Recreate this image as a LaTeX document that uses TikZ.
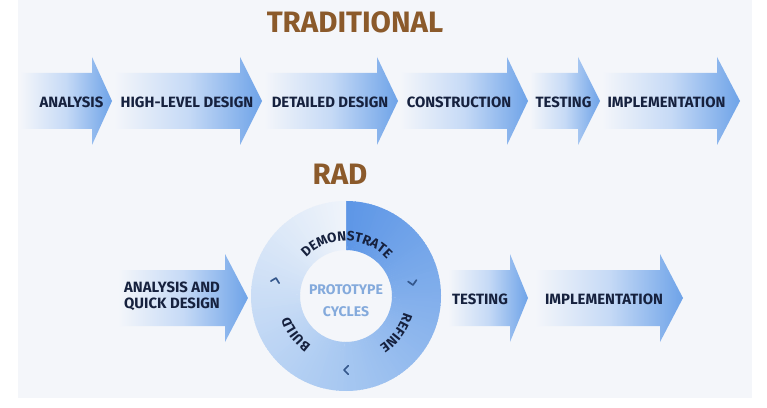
\documentclass[tikz,border=0pt]{standalone}
\usepackage{fontspec}
\setmainfont{Fira Sans}
\usetikzlibrary{decorations.text}
\definecolor{panel}{HTML}{F4F6FA}
\definecolor{navy}{HTML}{16213E}
\definecolor{brown}{HTML}{8B5A2B}
\definecolor{arrowblue}{HTML}{6EA3E8}
\definecolor{arrowmid}{HTML}{C6DAF6}
\definecolor{ringA}{HTML}{5D96E6}
\definecolor{ringB}{HTML}{A6C7F1}
\definecolor{ringC}{HTML}{EEF3FA}
\definecolor{proto}{HTML}{84AADC}
\definecolor{chevc}{HTML}{34578C}
\newcommand\rsarrow[4]{%
  \shade[arrowshade] (#1,#4-28) -- (#2,#4-28) -- (#2,#4-44) -- (#3,#4) -- (#2,#4+44) -- (#2,#4+28) -- (#1,#4+28) -- cycle;}
\newcommand\ringfont{\bfseries\fontsize{13.5}{15}\selectfont\color{navy}}
\tikzset{
  arrowshade/.style={left color=panel, right color=arrowblue, middle color=arrowmid},
  lbl/.style={font=\bfseries\fontsize{14.9}{16}\selectfont, text=navy, inner sep=0pt},
  titlelbl/.style={font=\bfseries\fontsize{29.5}{32}\selectfont, text=brown, inner sep=0pt},
  protolbl/.style={font=\bfseries\fontsize{14}{22}\selectfont, text=proto, inner sep=0pt, align=center},
  chev/.style={draw=chevc, line width=1.7pt, line cap=round, line join=round}
}
\begin{document}
\begin{tikzpicture}[x=1pt,y=1pt]
\useasboundingbox (0,0) rectangle (767,407);
\fill[white] (0,0) rectangle (767,407);
\fill[panel] (18,9) rectangle (752,407);

% titles
\node[titlelbl] (trad) at (355,385) {TRADITIONAL};
\node[titlelbl] (rad) at (340,233) {RAD};

% traditional row
\rsarrow{20}{92}{112}{306}
\rsarrow{114}{240}{262}{306}
\rsarrow{264}{377}{398}{306}
\rsarrow{400}{507}{528}{306}
\rsarrow{530}{578}{600}{306}
\rsarrow{602}{717}{740}{306}
\node[lbl] (t1) at (71.5,305) {ANALYSIS};
\node[lbl] (t2) at (187,305) {HIGH-LEVEL DESIGN};
\node[lbl] (t3) at (330,305) {DETAILED DESIGN};
\node[lbl] (t4) at (459,305) {CONSTRUCTION};
\node[lbl] (t5) at (563.5,305) {TESTING};
\node[lbl] (t6) at (666.5,305) {IMPLEMENTATION};

% RAD row arrows
\rsarrow{118}{225}{248}{109}
\rsarrow{448}{510}{528}{109}
\rsarrow{535}{660}{683}{109}
\node[lbl, align=left, anchor=west] (r1) at (124,111) {ANALYSIS AND\\QUICK DESIGN};
\node[lbl] (r2) at (480,108) {TESTING};
\node[lbl] (r3) at (604,108) {IMPLEMENTATION};

% ring
\coordinate (rc) at (346,111);
\begin{scope}[shift={(rc)}]
\foreach \i in {0,...,179}{
  \pgfmathsetmacro\aS{90-2*\i+(\i>0)*0.5}
  \pgfmathsetmacro\aE{90-2*\i-2}
  \ifnum\i<90
    \pgfmathtruncatemacro\q{100-\i*100/90}
    \colorlet{segc}{ringA!\q!ringB}
  \else
    \pgfmathtruncatemacro\q{100-(\i-90)*100/89}
    \colorlet{segc}{ringB!\q!ringC}
  \fi
  \fill[segc] (\aS:95) arc[start angle=\aS, end angle=\aE, radius=95] -- (\aE:46) arc[start angle=\aE, end angle=\aS, radius=46] -- cycle;
}
\path[decorate, decoration={text along path, text align=center, text={|\ringfont|DEMONSTRATE}}] (170:55) arc[start angle=170, end angle=8, radius=55];
\path[decorate, decoration={text along path, text align=center, text={|\ringfont|REFINE}}] (8:60) arc[start angle=8, end angle=-80, radius=60];
\path[decorate, decoration={text along path, text align=center, text={|\ringfont|BUILD}}] (255:60) arc[start angle=255, end angle=179, radius=60];
\end{scope}
\node[protolbl] (pc) at (346,106) {PROTOTYPE\\CYCLES};

% chevrons
\coordinate (chL) at (276,129);
\coordinate (chR) at (413,122);
\coordinate (chB) at (344,37);
\draw[chev] ([shift={(211:6)}]chL) -- (chL) -- ([shift={(-59:6)}]chL);
\draw[chev] ([shift={(55:6)}]chR) -- (chR) -- ([shift={(-215:6)}]chR);
\draw[chev] ([shift={(45:6)}]chB) -- (chB) -- ([shift={(-45:6)}]chB);
\end{tikzpicture}
\end{document}
